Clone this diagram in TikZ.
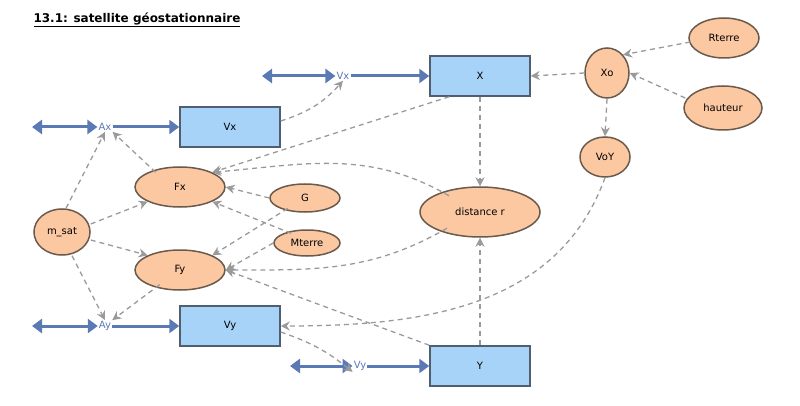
\documentclass[tikz,border=0pt]{standalone}
\usepackage{fontspec}
\setmainfont{DejaVu Sans}
\usetikzlibrary{arrows.meta,shapes.geometric}
\definecolor{boxfill}{HTML}{A6D3F7}
\definecolor{boxline}{HTML}{4F5F6F}
\definecolor{flowc}{HTML}{5B79B5}
\definecolor{varfill}{HTML}{FBC8A2}
\definecolor{varline}{HTML}{6A5A4C}
\definecolor{depc}{HTML}{9A9A9A}
\begin{document}
\begin{tikzpicture}[x=1pt,y=-1pt,
 font=\fontsize{10}{12}\selectfont,
 stock/.style={draw=boxline,line width=1.5pt,fill=boxfill,minimum width=100pt,minimum height=40pt,inner sep=0pt},
 var/.style={ellipse,draw=varline,line width=1.5pt,fill=varfill,inner sep=0pt},
 valve/.style={inner sep=1pt,text=flowc},
 flowline/.style={line width=3pt,draw=flowc},
 flow/.style={flowline,{Triangle[length=10pt,width=14pt]}-{Triangle[length=10pt,width=14pt]}},
 inflow/.style={flowline,-{Triangle[length=10pt,width=14pt]}},
 dep/.style={draw=depc,line width=1.3pt,dash pattern=on 5pt off 4pt,-{Stealth[length=9pt,width=9pt]}}]
\useasboundingbox (0,0) rectangle (800,406);
\node[anchor=west,font=\bfseries\fontsize{12}{14}\selectfont] (title) at (30,20) {\underline{13.1: satellite géostationnaire}};
% stocks
\node[stock] (X) at (480,76) {X};
\node[stock] (Vx) at (230,127) {Vx};
\node[stock] (Vy) at (230,326) {Vy};
\node[stock] (Y) at (480,366) {Y};
% variables
\node[var,minimum width=44pt,minimum height=50pt] (Xo) at (607,73) {Xo};
\node[var,minimum width=70pt,minimum height=40pt] (Rt) at (724,38) {Rterre};
\node[var,minimum width=78pt,minimum height=44pt] (h) at (723,108) {hauteur};
\node[var,minimum width=50pt,minimum height=40pt] (VoY) at (605,157) {VoY};
\node[var,minimum width=90pt,minimum height=40pt] (Fx) at (180,187) {Fx};
\node[var,minimum width=70pt,minimum height=28pt] (G) at (305,198) {G};
\node[var,minimum width=120pt,minimum height=50pt] (r) at (480,212) {distance r};
\node[var,minimum width=56pt,minimum height=46pt] (m) at (62,232) {m\_sat};
\node[var,minimum width=66pt,minimum height=26pt] (M) at (307,243) {Mterre};
\node[var,minimum width=90pt,minimum height=40pt] (Fy) at (180,270) {Fy};
% valves
\node[valve] (vVx) at (343,76) {Vx};
\node[valve] (vAx) at (105,127) {Ax};
\node[valve] (vAy) at (105,326) {Ay};
\node[valve] (vVy) at (360,366) {Vy};
\coordinate (sVx) at (262,76);
\coordinate (sAx) at (32,127);
\coordinate (sAy) at (32,326);
\coordinate (sVy) at (290,366);
% flows
\draw[flow] (sVx) -- (vVx.west); \draw[inflow] (vVx.east) -- (X.west);
\draw[flow] (sAx) -- (vAx.west); \draw[inflow] (vAx.east) -- (Vx.west);
\draw[flow] (sAy) -- (vAy.west); \draw[inflow] (vAy.east) -- (Vy.west);
\draw[flow] (sVy) -- (vVy.west); \draw[inflow] (vVy.east) -- (Y.west);
% dependencies
\draw[dep] (Vx.east) ++(0,-6) to[bend right=15] (vVx.south);
\draw[dep] (Vy.east) ++(0,6) to[bend left=10] (vVy.south west);
\draw[dep] (X.south west) ++(20,0) -- (Fx.north east);
\draw[dep,line width=2pt] (X.south) -- (r.north);
\draw[dep] (Xo.west) -- (X.east);
\draw[dep] (Rt.west) ++(2,4) -- (Xo.north east);
\draw[dep] (h.west) ++(2,-10) -- (Xo.east);
\draw[dep] (Xo.south) -- (VoY.north);
\draw[dep] (VoY.south) to[out=250,in=0] (Vy.east);
\draw[dep] (r.north west) ++(12,2) to[out=150,in=5] (Fx.north east);
\draw[dep] (r.south west) ++(10,-2) to[out=210,in=0] (Fy.east);
\draw[dep] (Y.north) -- (r.south);
\draw[dep] (Y.north west) -- (Fy.east);
\draw[dep] (G.west) -- (Fx.east);
\draw[dep] (G.south west) ++(8,0) -- (Fy.north east);
\draw[dep] (M.north west) ++(8,0) -- (Fx.south east);
\draw[dep] (M.west) -- (Fy.east);
\draw[dep] (m.north) ++(4,0) -- (vAx.south);
\draw[dep] (m.east) ++(0,-8) -- (Fx.south west);
\draw[dep] (m.east) ++(0,8) -- (Fy.north west);
\draw[dep] (m.south) ++(10,0) -- (vAy.north);
\draw[dep] (Fx.north west) ++(8,0) -- (vAx.south east);
\draw[dep] (Fy.south west) ++(12,0) -- (vAy.north east);
\end{tikzpicture}
\end{document}
